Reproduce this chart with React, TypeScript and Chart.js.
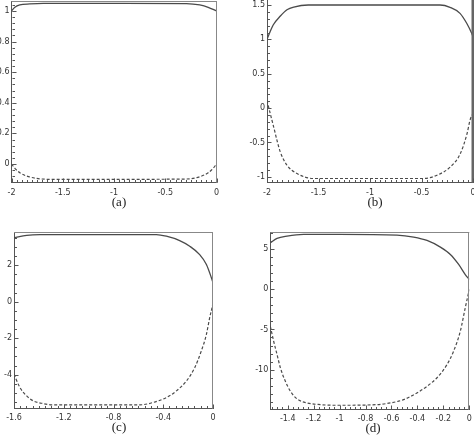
import React, { useEffect, useRef } from 'react';
import { Chart, registerables } from 'chart.js';
Chart.register(...registerables);

// ---------- data ----------
// Panel (a)
const aSolidX = [-2, -1.967, -1.919, -1.821, -1.691, -1.0, -0.293, -0.163, -0.081, 0];
const aSolidY = [1.0, 1.024, 1.039, 1.046, 1.05, 1.05, 1.048, 1.039, 1.024, 1.0];
const aDashX = [-2, -1.967, -1.919, -1.854, -1.756, -1.626, -1.0, -0.293, -0.163, -0.081, -0.033, 0];
const aDashY = [0, -0.028, -0.057, -0.078, -0.094, -0.1, -0.1, -0.098, -0.083, -0.057, -0.028, 0];
const aXTicks = [-2, -1.5, -1, -0.5, 0];
const aYTicks = [0, 0.2, 0.4, 0.6, 0.8, 1];

// Panel (b)
const bSolidX = [-2, -1.97, -1.94, -1.87, -1.806, -1.74, -1.6, -1.0, -0.32, -0.223, -0.126, -0.061, -0.013, 0];
const bSolidY = [1.0, 1.11, 1.21, 1.34, 1.43, 1.47, 1.5, 1.5, 1.5, 1.467, 1.379, 1.234, 1.089, 1.04];
const bDashX = [-2, -1.968, -1.935, -1.903, -1.871, -1.806, -1.709, -1.547, -1.0, -0.479, -0.35, -0.22, -0.123, -0.058, -0.026, 0];
const bDashY = [0.11, -0.082, -0.275, -0.469, -0.638, -0.831, -0.952, -1.024, -1.024, -1.024, -0.976, -0.855, -0.662, -0.372, -0.16, -0.08];
const bXTicks = [-2, -1.5, -1, -0.5, 0];
const bYTicks = [-1, -0.5, 0, 0.5, 1, 1.5];

// Panel (c)
const cSolidX = [-1.6, -1.498, -1.391, -1.0, -0.455, -0.375, -0.268, -0.187, -0.107, -0.053, -0.013, 0];
const cSolidY = [3.51, 3.65, 3.69, 3.69, 3.69, 3.6, 3.36, 3.05, 2.59, 2.05, 1.32, 1.04];
const cDashX = [-1.6, -1.552, -1.498, -1.445, -1.365, -1.284, -1.0, -0.589, -0.482, -0.375, -0.294, -0.214, -0.147, -0.094, -0.053, -0.027, -0.005, 0];
const cDashY = [-3.98, -4.71, -5.17, -5.44, -5.59, -5.66, -5.66, -5.66, -5.53, -5.26, -4.89, -4.35, -3.62, -2.7, -1.79, -0.88, -0.24, -0.05];
const cXTicks = [-1.6, -1.2, -0.8, -0.4, 0];
const cYTicks = [-4, -2, 0, 2];

// Panel (d)
const dSolidX = [-1.534, -1.482, -1.405, -1.277, -1.0, -0.557, -0.429, -0.326, -0.223, -0.146, -0.082, -0.031, 0];
const dSolidY = [5.76, 6.3, 6.59, 6.8, 6.8, 6.71, 6.47, 6.05, 5.22, 4.31, 3.07, 1.82, 1.2];
const dDashX = [-1.534, -1.508, -1.482, -1.456, -1.418, -1.379, -1.328, -1.251, -1.148, -1.02, -0.712, -0.609, -0.506, -0.404, -0.326, -0.249, -0.172, -0.121, -0.069, -0.031, 0];
const dDashY = [-4.6, -6.47, -8.12, -9.78, -11.44, -12.68, -13.63, -14.13, -14.34, -14.42, -14.34, -14.13, -13.72, -12.89, -12.06, -11.0, -9.37, -7.7, -5.2, -2.3, -0.04];
const dXTicks = [-1.4, -1.2, -1, -0.8, -0.6, -0.4, -0.2, 0];
const dYTicks = [-10, -5, 0, 5];

const captions = ['(a)', '(b)', '(c)', '(d)'];

// ---------- layout / styling ----------
type PanelCfg = {
  left: number; top: number; width: number; height: number;
  yW: number; padTop: number; padRight: number; xH: number;
  xPad: number; yPad: number;
  xMin: number; xMax: number; yMin: number; yMax: number;
  xTicks: number[]; yTicks: number[]; xMinor: number; yMinor: number;
  solidX: number[]; solidY: number[]; dashX: number[]; dashY: number[];
  frameTop: boolean; rightW: number;
  caption: string; capX: number; capY: number;
};

const panels: PanelCfg[] = [
  {
    left: 0, top: 0, width: 237, height: 218, yW: 11.5, padTop: 1, padRight: 20.5, xH: 35.3, xPad: 5, yPad: 2,
    xMin: -2, xMax: 0, yMin: -0.122, yMax: 1.065, xTicks: aXTicks, yTicks: aYTicks, xMinor: 0.05, yMinor: 0.04,
    solidX: aSolidX, solidY: aSolidY, dashX: aDashX, dashY: aDashY, frameTop: true, rightW: 1,
    caption: captions[0], capX: 119, capY: 202,
  },
  {
    left: 237, top: 0, width: 237, height: 218, yW: 30, padTop: 0, padRight: 1, xH: 35.3, xPad: 5, yPad: 2,
    xMin: -2, xMax: 0, yMin: -1.085, yMax: 1.573, xTicks: bXTicks, yTicks: bYTicks, xMinor: 0.05, yMinor: 0.1,
    solidX: bSolidX, solidY: bSolidY, dashX: bDashX, dashY: bDashY, frameTop: false, rightW: 3,
    caption: captions[1], capX: 375, capY: 202,
  },
  {
    left: 0, top: 218, width: 237, height: 217, yW: 14, padTop: 14, padRight: 24, xH: 26.3, xPad: 4, yPad: 2,
    xMin: -1.6, xMax: 0, yMin: -5.87, yMax: 3.83, xTicks: cXTicks, yTicks: cYTicks, xMinor: 0.05, yMinor: 0.5,
    solidX: cSolidX, solidY: cSolidY, dashX: cDashX, dashY: cDashY, frameTop: true, rightW: 1,
    caption: captions[2], capX: 119, capY: 427,
  },
  {
    left: 237, top: 218, width: 237, height: 217, yW: 33.3, padTop: 14, padRight: 4.7, xH: 25.3, xPad: 4, yPad: 2,
    xMin: -1.534, xMax: 0, yMin: -14.97, yMax: 7.1, xTicks: dXTicks, yTicks: dYTicks, xMinor: 0.04, yMinor: 1,
    solidX: dSolidX, solidY: dSolidY, dashX: dDashX, dashY: dDashY, frameTop: true, rightW: 1,
    caption: captions[3], capX: 373, capY: 428,
  },
];

const LINE = '#4a4a4a';
const AXIS = '#555';
const FRAME = '#888';
const TICKFONT = { family: 'DejaVu Sans', size: 8 };

const framePlugin = {
  id: 'frameTicks',
  afterDraw(chart: any, _args: any, opts: any) {
    const { ctx, chartArea: a, scales } = chart;
    const xs = scales.x, ys = scales.y;
    ctx.save();
    ctx.strokeStyle = FRAME;
    ctx.lineWidth = 1;
    if (opts.frameTop) {
      ctx.beginPath();
      ctx.moveTo(a.left, Math.round(a.top) + 0.5);
      ctx.lineTo(a.right, Math.round(a.top) + 0.5);
      ctx.stroke();
    }
    ctx.lineWidth = opts.rightW;
    ctx.strokeStyle = opts.rightW > 1 ? '#666' : FRAME;
    ctx.beginPath();
    const rx = opts.rightW > 1 ? Math.round(a.right) : Math.round(a.right) - 0.5;
    ctx.moveTo(rx, a.top);
    ctx.lineTo(rx, a.bottom);
    ctx.stroke();

    ctx.strokeStyle = AXIS;
    ctx.lineWidth = 1;
    const bx = Math.round(a.bottom) - 0.5;
    const lx = Math.round(a.left) + 0.5;
    const drawX = (v: number, len: number) => {
      const p = Math.round(xs.getPixelForValue(v)) + 0.5;
      ctx.beginPath(); ctx.moveTo(p, bx); ctx.lineTo(p, bx - len); ctx.stroke();
    };
    const drawY = (v: number, len: number) => {
      const p = Math.round(ys.getPixelForValue(v)) + 0.5;
      ctx.beginPath(); ctx.moveTo(lx, p); ctx.lineTo(lx + len, p); ctx.stroke();
    };
    const xStart = Math.ceil(xs.min / opts.xMinor - 1e-6);
    for (let k = xStart; k * opts.xMinor <= xs.max + 1e-9; k++) drawX(k * opts.xMinor, 2.5);
    const yStart = Math.ceil(ys.min / opts.yMinor - 1e-6);
    for (let k = yStart; k * opts.yMinor <= ys.max + 1e-9; k++) drawY(k * opts.yMinor, 2.5);
    opts.xTicks.forEach((v: number) => drawX(v, 4));
    opts.yTicks.forEach((v: number) => drawY(v, 4));
    ctx.restore();
  },
};

function Panel({ cfg }: { cfg: PanelCfg }) {
  const ref = useRef<HTMLCanvasElement | null>(null);
  useEffect(() => {
    if (!ref.current) return;
    const zeroPad = (s: any) => {
      s.paddingLeft = 0; s.paddingRight = 0; s.paddingTop = 0; s.paddingBottom = 0;
    };
    const chart = new Chart(ref.current, {
      type: 'line',
      data: {
        datasets: [
          {
            data: cfg.solidX.map((x, i) => ({ x, y: cfg.solidY[i] })),
            borderColor: LINE, borderWidth: 1.3, pointRadius: 0, fill: false,
            cubicInterpolationMode: 'monotone',
          },
          {
            data: cfg.dashX.map((x, i) => ({ x, y: cfg.dashY[i] })),
            borderColor: LINE, borderWidth: 1.2, pointRadius: 0, fill: false,
            borderDash: [3, 2], cubicInterpolationMode: 'monotone',
          },
        ],
      },
      options: {
        animation: false,
        responsive: false,
        events: [],
        layout: { padding: { top: cfg.padTop, right: cfg.padRight, left: 0, bottom: 0 } },
        plugins: {
          legend: { display: false },
          tooltip: { enabled: false },
          frameTicks: {
            frameTop: cfg.frameTop, rightW: cfg.rightW,
            xMinor: cfg.xMinor, yMinor: cfg.yMinor, xTicks: cfg.xTicks, yTicks: cfg.yTicks,
          },
        } as any,
        scales: {
          x: {
            type: 'linear', min: cfg.xMin, max: cfg.xMax,
            grid: { display: false, drawTicks: false },
            border: { display: true, color: AXIS, width: 1 },
            ticks: {
              autoSkip: false, maxRotation: 0, minRotation: 0, padding: cfg.xPad,
              color: '#333', font: TICKFONT,
              callback: (v: any) => String(v),
            },
            afterBuildTicks: (s: any) => { s.ticks = cfg.xTicks.map((v) => ({ value: v })); },
            afterFit: (s: any) => { s.height = cfg.xH; zeroPad(s); },
          },
          y: {
            type: 'linear', min: cfg.yMin, max: cfg.yMax,
            grid: { display: false, drawTicks: false },
            border: { display: true, color: AXIS, width: 1 },
            ticks: {
              autoSkip: false, padding: cfg.yPad,
              color: '#333', font: TICKFONT,
              callback: (v: any) => String(v),
            },
            afterBuildTicks: (s: any) => { s.ticks = cfg.yTicks.map((v) => ({ value: v })); },
            afterFit: (s: any) => { s.width = cfg.yW; zeroPad(s); },
          },
        },
      } as any,
      plugins: [framePlugin],
    });
    return () => chart.destroy();
  }, [cfg]);
  return (
    <canvas
      ref={ref}
      width={cfg.width}
      height={cfg.height}
      style={{ position: 'absolute', left: cfg.left, top: cfg.top, width: cfg.width, height: cfg.height }}
    />
  );
}

export default function App() {
  return (
    <div style={{ position: 'fixed', left: 0, top: 0, width: 474, height: 435, background: '#fff', overflow: 'hidden' }}>
      {panels.map((p, i) => (
        <Panel key={i} cfg={p} />
      ))}
      {panels.map((p, i) => (
        <div
          key={'c' + i}
          style={{
            position: 'absolute', left: p.capX, top: p.capY, transform: 'translate(-50%, -50%)',
            fontFamily: '"Liberation Serif", serif', fontSize: 13, color: '#222', whiteSpace: 'nowrap',
          }}
        >
          {p.caption}
        </div>
      ))}
    </div>
  );
}
